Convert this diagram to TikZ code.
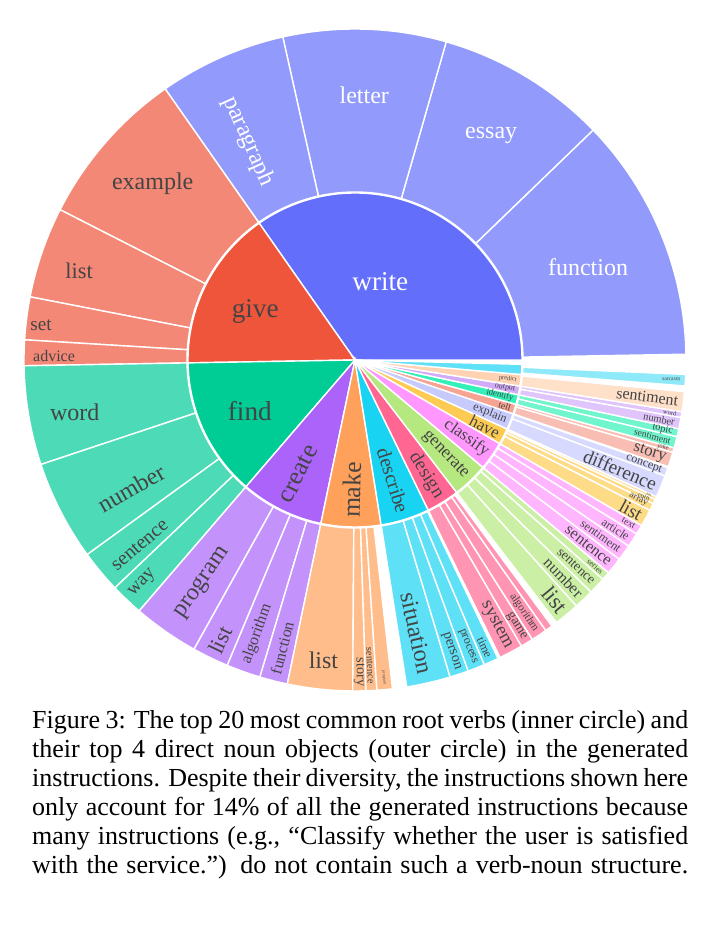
\documentclass[tikz,border=0pt]{standalone}
\usepackage{fontspec}
\setmainfont{Liberation Serif}
\definecolor{cwrite}{HTML}{636EFA}\definecolor{cgive}{HTML}{EF553B}
\definecolor{cfind}{HTML}{00CC96}\definecolor{ccreate}{HTML}{AB63FA}
\definecolor{cmake}{HTML}{FFA15A}\definecolor{cdescribe}{HTML}{19D3F3}
\definecolor{cdesign}{HTML}{FF6692}\definecolor{cgenerate}{HTML}{B6E880}
\definecolor{cclassify}{HTML}{FF97FF}\definecolor{chave}{HTML}{FECB52}
\definecolor{cexplain}{HTML}{C6CAFD}\definecolor{ctell}{HTML}{F6A392}
\definecolor{cidentify}{HTML}{33F0B8}\definecolor{coutput}{HTML}{D3ABFB}
\definecolor{cpredict}{HTML}{FFD3B2}\definecolor{cdetect}{HTML}{5EE0F7}
\definecolor{lab}{HTML}{444444}
\newcommand\iseg[3]{\fill[#3,draw=white,line width=1.4pt] (0,0) -- (#1:167) arc(#1:#2:167) -- cycle;}
\newcommand\oseg[3]{\fill[#3!70!white,draw=white,line width=1.4pt] (#1:168) arc(#1:#2:168) -- (#2:331) arc(#2:#1:331) -- cycle;}
\begin{document}
\begin{tikzpicture}[x=1pt,y=1pt,
  lb/.style={text=lab,inner sep=0pt},
  wl/.style={text=white,inner sep=0pt},
  fs/.style={font=\pgfmathsetmacro\fsz{1.6*#1}\fontsize{\fsz}{\fsz}\selectfont}]
\useasboundingbox (0,0) rectangle (720,934);
\fill[white] (0,0) rectangle (720,934);
\begin{scope}[shift={(355,574)}]
% inner ring
\iseg{0}{125}{cwrite}\iseg{125}{181}{cgive}\iseg{181}{229.3}{cfind}
\iseg{229.3}{258.2}{ccreate}\iseg{258.2}{279}{cmake}\iseg{279}{296}{cdescribe}
\iseg{296}{307.5}{cdesign}\iseg{307.5}{320}{cgenerate}\iseg{320}{330}{cclassify}
\iseg{330}{335.6}{chave}\iseg{335.6}{341.2}{cexplain}\iseg{341.2}{344.6}{ctell}
\iseg{344.6}{348}{cidentify}\iseg{348}{351}{coutput}\iseg{351}{355}{cpredict}
\iseg{355}{358.5}{cdetect}
% outer ring
\oseg{1}{44}{cwrite}\oseg{44}{74}{cwrite}\oseg{74}{102.6}{cwrite}\oseg{102.6}{125}{cwrite}
\oseg{125}{153}{cgive}\oseg{153}{169}{cgive}\oseg{169}{176.5}{cgive}\oseg{176.5}{181}{cgive}
\oseg{181}{198.4}{cfind}\oseg{198.4}{216}{cfind}\oseg{216}{223.5}{cfind}\oseg{223.5}{229.3}{cfind}
\oseg{229.3}{240.9}{ccreate}\oseg{240.9}{247.3}{ccreate}\oseg{247.3}{253.3}{ccreate}\oseg{253.3}{258.2}{ccreate}
\oseg{258.2}{269.6}{cmake}\oseg{269.6}{271.9}{cmake}\oseg{271.9}{273.8}{cmake}\oseg{273.8}{276.5}{cmake}
\oseg{279}{286.7}{cdescribe}\oseg{286.7}{290}{cdescribe}\oseg{290}{293}{cdescribe}\oseg{293}{295.6}{cdescribe}
\oseg{296}{300.2}{cdesign}\oseg{300.2}{302.4}{cdesign}\oseg{302.4}{305.2}{cdesign}\oseg{305.2}{306.5}{cdesign}
\oseg{307.5}{312}{cgenerate}\oseg{312}{315.5}{cgenerate}\oseg{315.5}{318.5}{cgenerate}\oseg{318.5}{320}{cgenerate}
\oseg{320}{323}{cclassify}\oseg{323}{325.8}{cclassify}\oseg{325.8}{328.3}{cclassify}\oseg{328.3}{330}{cclassify}
\oseg{330}{333}{chave}\oseg{333}{334.3}{chave}\oseg{334.3}{335.1}{chave}\oseg{335.1}{335.6}{chave}
\oseg{335.6}{339.5}{cexplain}\oseg{339.5}{341}{cexplain}
\oseg{341.2}{343.8}{ctell}\oseg{343.8}{344.6}{ctell}
\oseg{344.6}{346.6}{cidentify}\oseg{346.6}{348}{cidentify}
\oseg{348}{350}{coutput}\oseg{350}{351}{coutput}
\oseg{351}{354.5}{cpredict}
\oseg{355.5}{357.5}{cdetect}
% inner labels
\node[wl,fs=17] (vwrite) at (72:82) {write};
\node[lb,fs=17] (vgive) at (154:111) {give};
\node[lb,fs=17] (vfind) at (206:117) {find};
\node[lb,fs=16,rotate=63.5,anchor=west] (vcreate) at (243.5:158) {create};
\node[lb,fs=16,rotate=88.5,anchor=west] (vmake) at (268.5:158) {make};
\node[lb,fs=12.5,rotate=-72.5,anchor=east] (vdescribe) at (287.5:160) {describe};
\node[lb,fs=12,rotate=-58.2,anchor=east] (vdesign) at (301.7:161) {design};
\node[lb,fs=11,rotate=-46.2,anchor=east] (vgenerate) at (313.7:161) {generate};
\node[lb,fs=10.5,rotate=-35,anchor=east] (vclassify) at (325:162) {classify};
\node[lb,fs=10.5,rotate=-27.2,anchor=east] (vhave) at (332.8:162) {have};
\node[lb,fs=7.5,rotate=-21.6,anchor=east] (vexplain) at (338.4:163) {explain};
\node[lb,fs=6,rotate=-17.1,anchor=east] (vtell) at (342.9:163) {tell};
\node[lb,fs=5.5,rotate=-13.7,anchor=east] (videntify) at (346.3:163) {identify};
\node[lb,fs=5,rotate=-10.5,anchor=east] (voutput) at (349.5:163) {output};
\node[lb,fs=4,rotate=-7,anchor=east] (vpredict) at (353:163) {predict};
% outer labels: write
\node[wl,fs=15] (w1) at (21.8:251) {function};
\node[wl,fs=15] (w2) at (58.8:263) {essay};
\node[wl,fs=15] (w3) at (88:265) {letter};
\node[wl,fs=15,rotate=-66] (w4) at (116:243) {paragraph};
% give
\node[lb,fs=15] (g1) at (139:268) {example};
\node[lb,fs=14] (g2) at (162:290) {list};
\node[lb,fs=12] (g3) at (173.6:316) {set};
\node[lb,fs=10] (g4) at (179.2:301) {advice};
% find
\node[lb,fs=15] (f1) at (190.5:285) {word};
\node[lb,fs=15,rotate=29.8] (f2) at (209.8:258) {number};
\node[lb,fs=12.5,rotate=40.7] (f3) at (220.7:284) {sentence};
\node[lb,fs=12,rotate=46.4] (f4) at (226.4:308) {way};
% create
\node[lb,fs=15,rotate=55.7] (c1) at (235.7:270) {program};
\node[lb,fs=14,rotate=64.3] (c2) at (244.3:311) {list};
\node[lb,fs=10,rotate=70] (c3) at (250.3:291) {algorithm};
\node[lb,fs=10,rotate=75.8] (c4) at (255.8:297) {function};
% make
\node[lb,fs=15] (m1) at (264:302) {list};
\node[lb,fs=9,rotate=-89.2] (m2) at (270.8:312) {story};
\node[lb,fs=6.5,rotate=-87.2] (m3) at (272.8:306) {sentence};
\node[lb,fs=2.5,rotate=-84.8,anchor=east] (m4) at (275.2:326) {program};
% describe
\node[lb,fs=15,rotate=-77.2] (d1) at (282.8:280) {situation};
\node[lb,fs=9,rotate=-71.7,anchor=east] (d2) at (288.3:326) {person};
\node[lb,fs=7.5,rotate=-68.5,anchor=east] (d3) at (291.5:326) {process};
\node[lb,fs=7.5,rotate=-65.7,anchor=east] (d4) at (294.3:326) {time};
% design
\node[lb,fs=11.5,rotate=-61.9,anchor=east] (s1) at (298.1:326) {system};
\node[lb,fs=8.5,rotate=-58.7,anchor=east] (s2) at (301.3:326) {game};
\node[lb,fs=7,rotate=-56.2,anchor=east] (s3) at (303.8:326) {algorithm};
% generate
\node[lb,fs=14,rotate=-50.2,anchor=east] (n1) at (309.8:326) {list};
\node[lb,fs=10,rotate=-46.2,anchor=east] (n2) at (313.8:326) {number};
\node[lb,fs=8.5,rotate=-43,anchor=east] (n3) at (317:326) {sentence};
\node[lb,fs=5,rotate=-40.7,anchor=east] (n4) at (319.3:326) {series};
% classify
\node[lb,fs=10,rotate=-38.5,anchor=east] (k1) at (321.5:326) {sentence};
\node[lb,fs=7.5,rotate=-35.6,anchor=east] (k2) at (324.4:326) {sentiment};
\node[lb,fs=7.5,rotate=-33,anchor=east] (k3) at (327:326) {article};
\node[lb,fs=6,rotate=-30.8,anchor=east] (k4) at (329.2:326) {text};
% have
\node[lb,fs=12,rotate=-28.5,anchor=east] (h1) at (331.5:326) {list};
\node[lb,fs=6,rotate=-26.3,anchor=east] (h2) at (333.7:326) {array};
\node[lb,fs=4.5,rotate=-25.3,anchor=east] (h3) at (334.7:326) {coin};
\node[lb,fs=2.5,rotate=-24.6,anchor=east] (h4) at (335.4:326) {set};
% explain
\node[lb,fs=12,rotate=-22.5,anchor=east] (e1) at (337.5:326) {difference};
\node[lb,fs=7.5,rotate=-19.8,anchor=east] (e2) at (340.2:326) {concept};
% tell
\node[lb,fs=10.5,rotate=-17.5,anchor=east] (t1) at (342.5:326) {story};
\node[lb,fs=4,rotate=-15.8,anchor=east] (t2) at (344.2:326) {joke};
% identify
\node[lb,fs=6,rotate=-14.4,anchor=east] (i1) at (345.6:326) {sentiment};
\node[lb,fs=6.5,rotate=-12.7,anchor=east] (i2) at (347.3:326) {topic};
% output
\node[lb,fs=6.5,rotate=-11,anchor=east] (o1) at (349:326) {number};
\node[lb,fs=4,rotate=-9.5,anchor=east] (o2) at (350.5:326) {word};
% predict
\node[lb,fs=10,rotate=-7.2,anchor=east] (p1) at (352.8:326) {sentiment};
\node[lb,fs=3.5,rotate=-3.5,anchor=east] (x1) at (356.5:326) {sarcasm};
\end{scope}
% caption
\begin{scope}[every node/.style={anchor=base west,inner sep=0pt,font=\fontsize{26}{29}\selectfont}]
\node (cap1) at (32,205) {\makebox[656pt][s]{Figure 3: The top 20 most common root verbs (inner circle) and}};
\node (cap2) at (32,176) {\makebox[656pt][s]{their top 4 direct noun objects (outer circle) in the generated}};
\node (cap3) at (32,147) {\makebox[656pt][s]{instructions. Despite their diversity, the instructions shown here}};
\node (cap4) at (32,118) {\makebox[656pt][s]{only account for 14\% of all the generated instructions because}};
\node (cap5) at (32,89) {\makebox[656pt][s]{many instructions (e.g., “Classify whether the user is satisfied}};
\node (cap6) at (32,60) {\makebox[656pt][s]{with the service.”) do not contain such a verb-noun structure.}};
\end{scope}
\end{tikzpicture}
\end{document}
